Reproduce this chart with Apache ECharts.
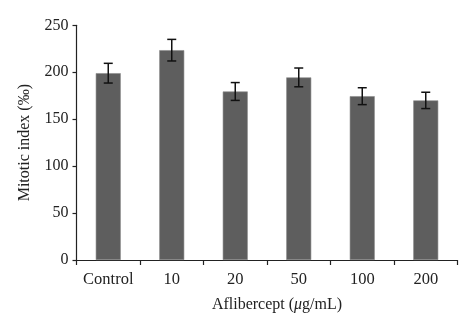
<!DOCTYPE html>
<html><head><meta charset="utf-8">
<script src="https://cdn.jsdelivr.net/npm/echarts@6/dist/echarts.min.js"></script>
<style>html,body{margin:0;padding:0;background:#fff}#c{width:474px;height:326px}</style>
</head><body><div id="c"></div>
<script>
const categories = ['Control', '10', '20', '50', '100', '200'];
const meanValues = [199, 223.5, 179.5, 194.5, 174.5, 170];
const errorValues = [10.5, 11.5, 9.5, 10, 9, 8.7];
const yTicks = { min: 0, max: 250, interval: 50 };

const chart = echarts.init(document.getElementById('c'));
const font = '"Liberation Serif", "DejaVu Serif", serif';
const errData = categories.map((c, i) => [i, meanValues[i] - errorValues[i], meanValues[i] + errorValues[i]]);

chart.setOption({
  animation: false,
  grid: { left: 76.5, right: 16.5, top: 25.3, bottom: 66 },
  xAxis: {
    type: 'category',
    data: categories,
    axisLine: { lineStyle: { color: '#222', width: 1.2 } },
    axisTick: { show: true, length: 5, interval: 0, lineStyle: { color: '#222', width: 1.2 } },
    axisLabel: { color: '#222', fontFamily: font, fontSize: 16.5, margin: 11, interval: 0, hideOverlap: false },
    name: '{a|Aflibercept (}{i|μ}{a|g/mL)}',
    nameLocation: 'middle',
    nameGap: 37,
    nameTextStyle: {
      padding: [0, 0, 0, 20],
      rich: {
        a: { fontFamily: font, fontSize: 16, color: '#222' },
        i: { fontFamily: font, fontSize: 16, color: '#222', fontStyle: 'italic' }
      }
    }
  },
  yAxis: {
    type: 'value',
    min: yTicks.min, max: yTicks.max, interval: yTicks.interval,
    splitLine: { show: false },
    axisLine: { show: true, lineStyle: { color: '#222', width: 1.2 } },
    axisTick: { show: true, length: 4, lineStyle: { color: '#222', width: 1.2 } },
    axisLabel: { color: '#222', fontFamily: font, fontSize: 16, margin: 8 },
    name: 'Mitotic index (‰)',
    nameLocation: 'middle',
    nameGap: 44,
    nameTextStyle: { fontFamily: font, fontSize: 16, color: '#222' }
  },
  series: [
    {
      type: 'bar',
      data: meanValues,
      barWidth: 25,
      itemStyle: { color: '#5e5e5e', borderColor: '#8a8a8a', borderWidth: 0.6 }
    },
    {
      type: 'custom',
      data: errData,
      z: 5,
      renderItem: function (params, api) {
        const x = api.value(0);
        const lo = api.coord([x, api.value(1)]);
        const hi = api.coord([x, api.value(2)]);
        const hw = 4.5;
        const st = { stroke: '#111', lineWidth: 1.5 };
        return {
          type: 'group',
          children: [
            { type: 'line', shape: { x1: lo[0], y1: lo[1], x2: hi[0], y2: hi[1] }, style: st },
            { type: 'line', shape: { x1: lo[0] - hw, y1: lo[1], x2: lo[0] + hw, y2: lo[1] }, style: st },
            { type: 'line', shape: { x1: hi[0] - hw, y1: hi[1], x2: hi[0] + hw, y2: hi[1] }, style: st }
          ]
        };
      }
    }
  ]
});
</script>
</body></html>
